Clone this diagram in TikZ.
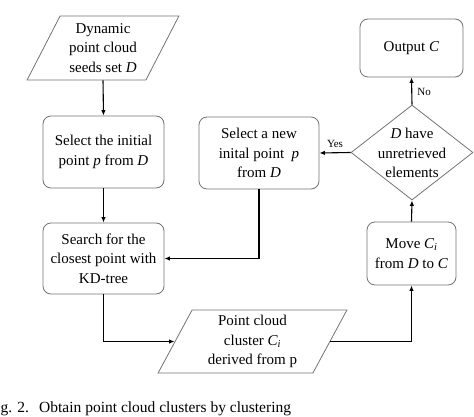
\documentclass[tikz,border=0pt]{standalone}
\usepackage{fontspec}
\setmainfont{Liberation Serif}
\usetikzlibrary{shapes.geometric,arrows.meta}
\definecolor{bordergray}{RGB}{115,115,115}
\begin{document}
\begin{tikzpicture}[x=1pt,y=-1pt,
  txt/.style={align=center,font=\fontsize{15}{19.5}\selectfont,inner sep=0pt},
  box/.style={txt,draw=bordergray,line width=0.8pt,rounded corners=8pt},
  para/.style={txt,trapezium,trapezium stretches=true,draw=bordergray,line width=0.8pt},
  dia/.style={diamond,draw=bordergray,line width=0.8pt,inner sep=0pt},
  arr/.style={line width=1.1pt,-{Latex[length=5.5pt,width=4.5pt]}},
  lab/.style={font=\fontsize{11}{13}\selectfont,inner sep=1pt}
]
\useasboundingbox (0,0) rectangle (474,417);

\node[para,trapezium left angle=62,trapezium right angle=118,minimum width=152pt,minimum height=64pt] (D) at (103,48)
  {Dynamic\\point cloud\\seeds set \textit{D}};
\node[box,minimum width=121pt,minimum height=72pt] (sel) at (103.5,152)
  {Select the initial\\point \textit{p} from \textit{D}};
\node[box,minimum width=121pt,minimum height=71pt] (search) at (103.5,258.5)
  {Search for the\\closest point with\\KD-tree};
\node[box,minimum width=120pt,minimum height=72pt] (new) at (259,153)
  {Select a new\\inital point~~\textit{p}\\from \textit{D}};
\node[dia,minimum width=122pt,minimum height=95pt] (dia) at (412,152.5) {};
\node[txt] (diatxt) at (412,153) {\textit{D} have\\unretrieved\\elements};
\node[box,minimum width=103pt,minimum height=58pt] (out) at (411.5,48)
  {Output \textit{C}};
\node[box,minimum width=89pt,minimum height=63pt] (move) at (411.5,253.5)
  {Move {\itshape C\textsubscript{i}}\\from \textit{D} to \textit{C}};
\node[para,trapezium left angle=64.5,trapezium right angle=115.5,minimum width=189pt,minimum height=63pt] (Ci) at (252.5,341.5)
  {Point cloud\\cluster {\itshape C\textsubscript{i}}\\derived from p};

\draw[arr] (D.south) -- (sel.north);
\draw[arr] (sel.south) -- (search.north);
\draw[arr] (search.south) |- (Ci.west);
\draw[arr] (Ci.east) -| (move.south);
\draw[arr] (move.north) -- (dia.south);
\draw[arr] (dia.north) -- node[lab,right=4pt,pos=0.45] (no) {No} (out.south);
\draw[arr] (dia.west) -- node[lab,above=4pt] (yes) {Yes} (new.east);
\draw[arr] (new.south) |- (search.east);

\node[anchor=base west,font=\fontsize{15.5}{19}\selectfont,inner sep=0pt] (fig) at (0.5,412) {g. 2.};
\node[anchor=base west,font=\fontsize{15.5}{19}\selectfont,inner sep=0pt] (cap) at (39,412) {Obtain point cloud clusters by clustering};
\end{tikzpicture}
\end{document}
